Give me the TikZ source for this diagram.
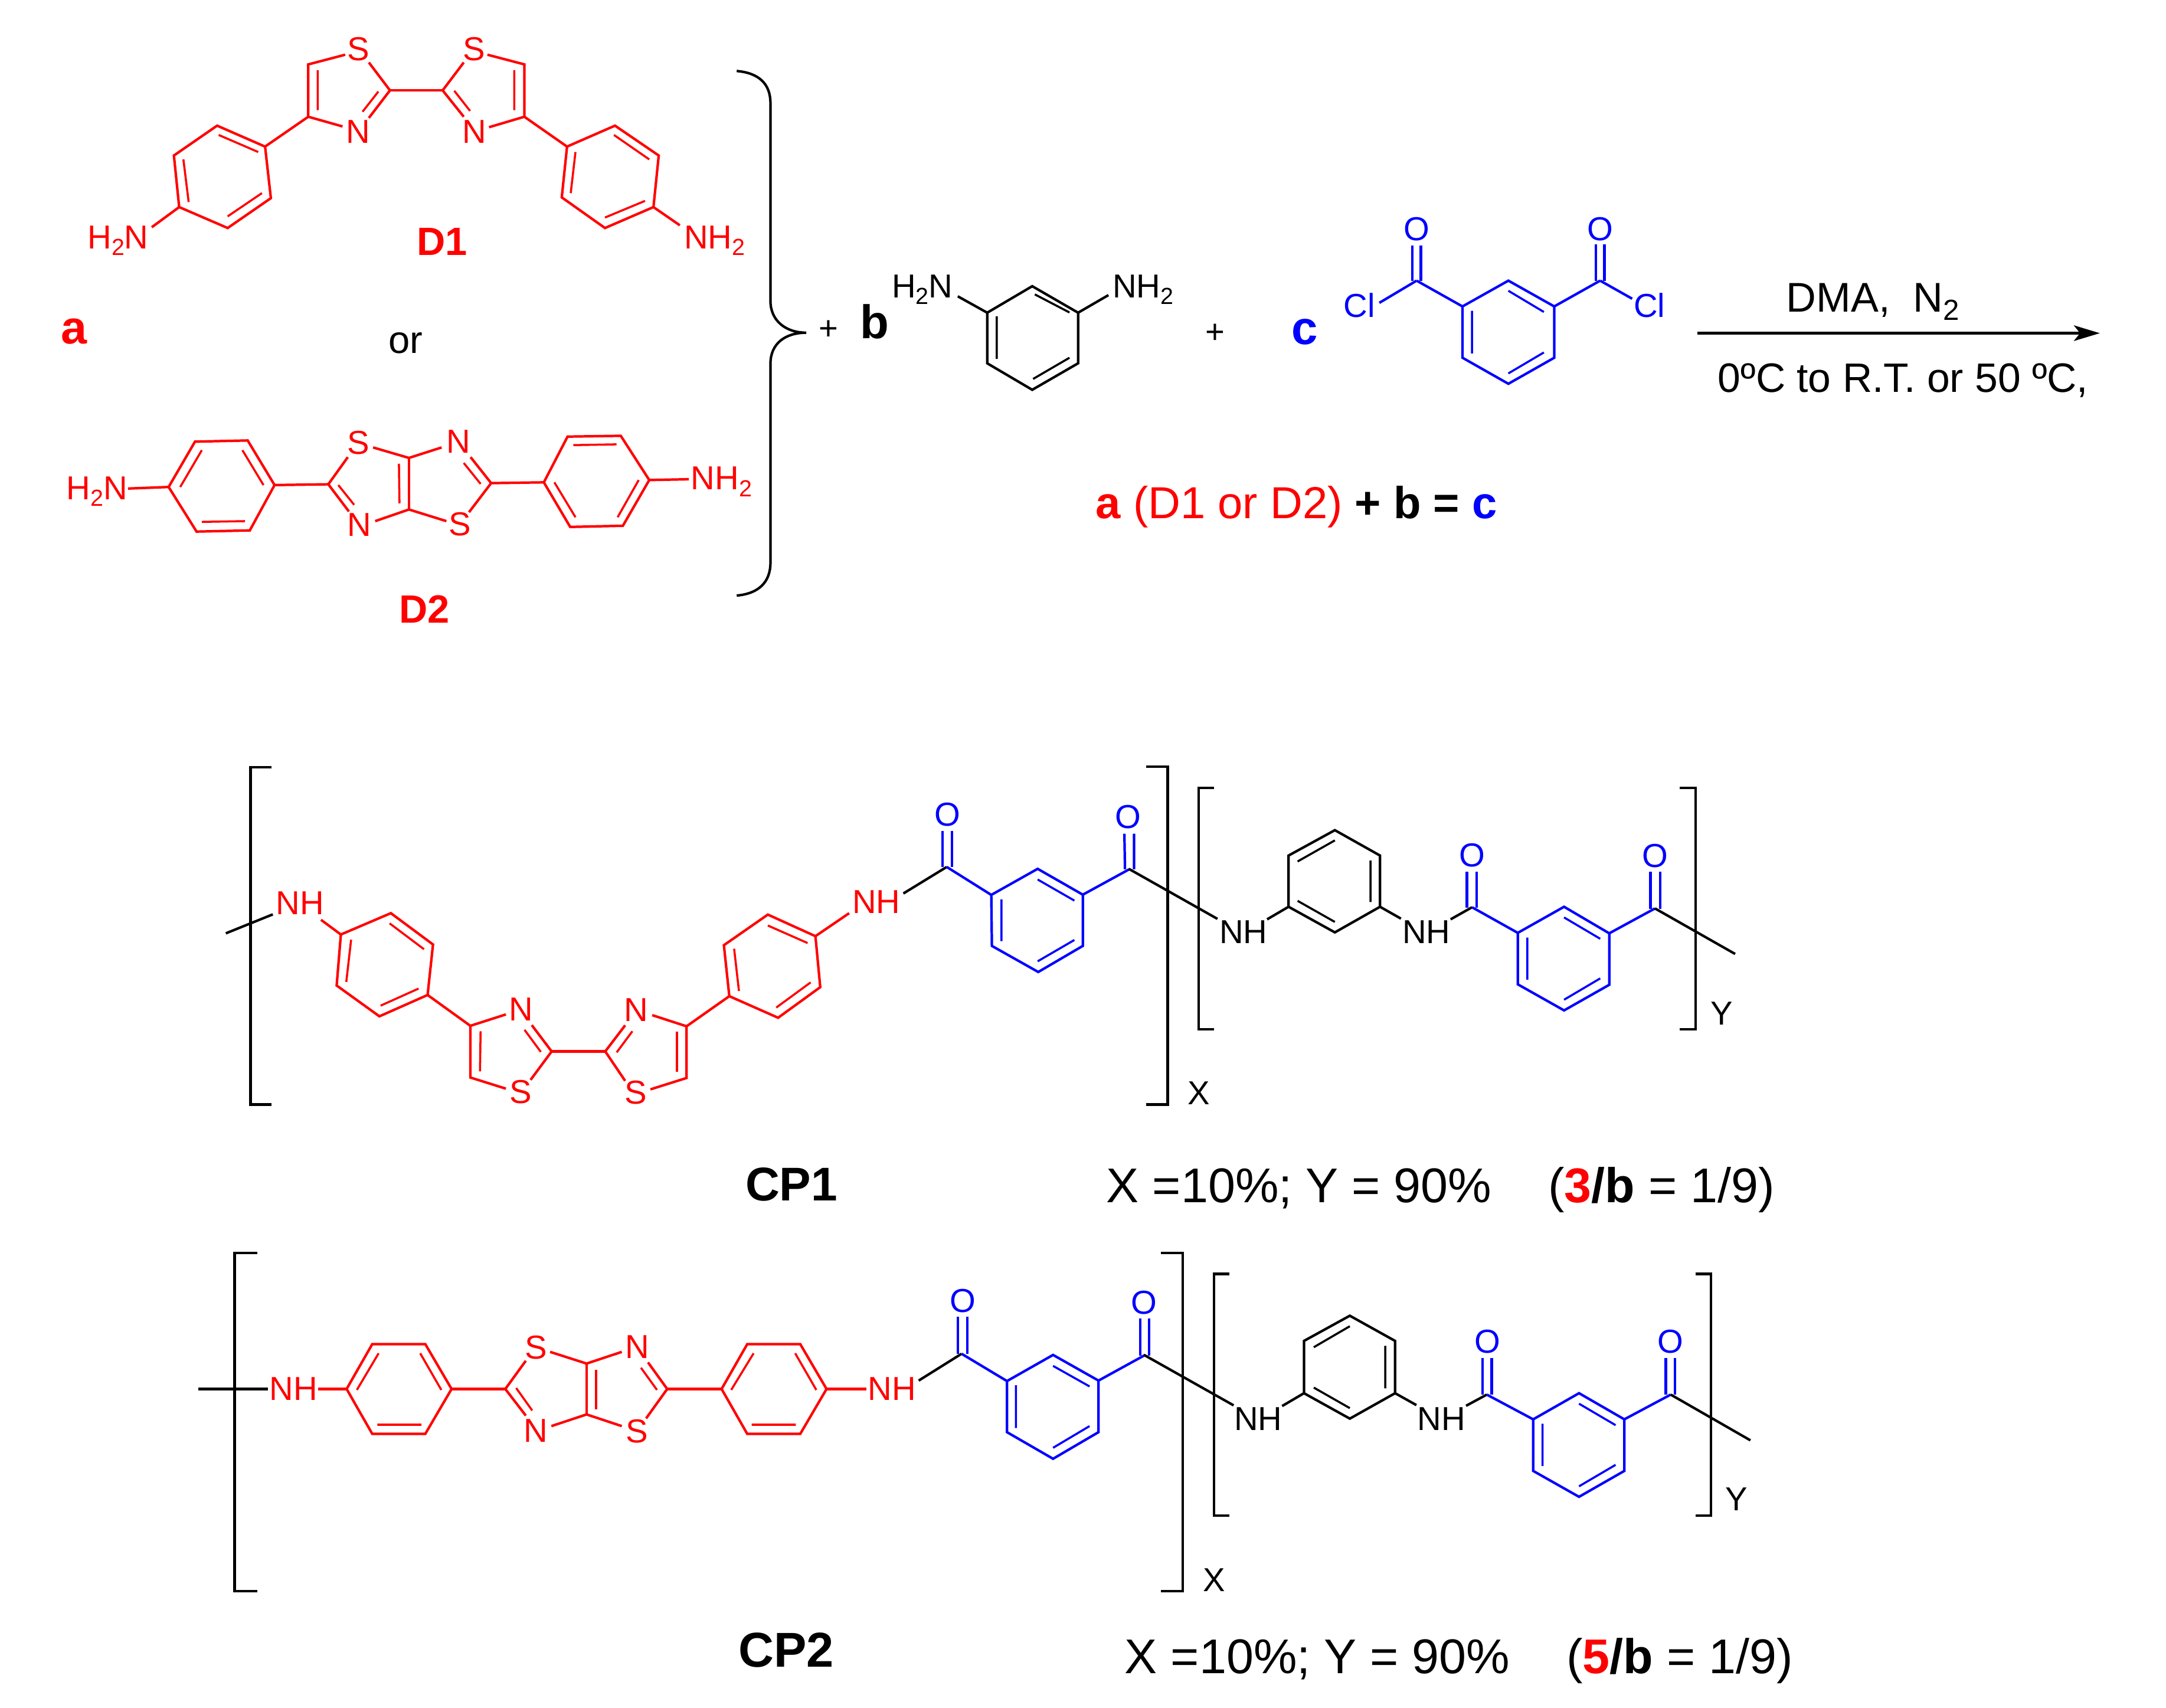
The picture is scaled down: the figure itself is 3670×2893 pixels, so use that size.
\documentclass[tikz,border=0pt]{standalone}
\usepackage{fontspec}
\setmainfont{Liberation Sans}
\usetikzlibrary{arrows.meta}
\definecolor{cr}{RGB}{255,0,0}
\definecolor{cb}{RGB}{0,0,255}
\newcommand{\sbs}[1]{\raisebox{-.2em}{\fontsize{11.2}{11.2}\selectfont #1}}
\newcommand{\sbl}[1]{\raisebox{-.2em}{\fontsize{14}{14}\selectfont #1}}
\newcommand{\fsz}[1]{\fontsize{#1}{#1}\selectfont}
\tikzset{
  rb/.style={draw=cr,line width=1.2pt,line join=miter},
  bb/.style={draw=cb,line width=1.2pt,line join=miter},
  kb/.style={draw=black,line width=1.2pt,line join=miter},
  ri/.style={draw=cr,line width=1pt},
  bi/.style={draw=cb,line width=1pt},
  ki/.style={draw=black,line width=1pt},
  brk/.style={draw=black,line width=1.2pt},
  lab/.style={anchor=base,inner sep=0pt,outer sep=0pt,font=\fsz{16}},
  rl/.style={lab,text=cr},
  bl/.style={lab,text=cb},
  kl/.style={lab,text=black},
  big/.style={anchor=base,inner sep=0pt,outer sep=0pt,font=\fsz{23.5}},
}
\begin{document}
\begin{tikzpicture}[x=0.01cm,y=-0.01cm]
\useasboundingbox[fill=white] (0,0) rectangle (3670,2893);
% ---------- a : D1 and D2
\begin{scope}[shift={(0,50)},xscale=.8929,yscale=.6569]
\node[rl] (s1) at (680,80) {S};
\node[rl] (n1) at (680,293) {N};
\node[rl] (s2) at (900,80) {S};
\node[rl] (n2) at (900,293) {N};
\draw[rb] (655,65)--(585,90)--(585,225)--(650,250);
\draw[rb] (700,85)--(740,157)--(700,228);
\draw[ri] (603,105)--(603,208) (718,160)--(688,212);
\draw[rb] (740,157)--(840,157);
\draw[rb] (880,85)--(840,157)--(880,225);
\draw[ri] (862,158)--(892,210) (976,105)--(976,208);
\draw[rb] (925,65)--(995,90)--(995,225)--(928,252);
\draw[rb] (585,225)--(503,302);
\draw[rb] (503,302)--(412,248)--(330,325)--(340,458)--(432,512)--(514,435)--cycle;
\draw[ri] (490,316)--(415,272) (348,335)--(358,445) (432,482)--(497,422);
\draw[rb] (340,458)--(288,510);
\draw[rb] (995,225)--(1076,302);
\draw[rb] (1076,302)--(1167,248)--(1250,325)--(1240,458)--(1148,512)--(1066,433)--cycle;
\draw[ri] (1092,316)--(1083,422) (1165,272)--(1232,335) (1148,485)--(1224,442);
\draw[rb] (1240,458)--(1290,505);
\node[rl] (h2na) at (224,565) {H\sbs{2}N};
\node[rl] (nh2a) at (1356,565) {NH\sbs{2}};
\node[rl,font=\fsz{19}\bfseries] (d1) at (839,582) {D1};
\node[rl,font=\fsz{22.5}\bfseries] (lba) at (140,810) {a};
\node[kl,font=\fsz{18.5}] (orl) at (770,835) {or};
% D2
\node[rl] (s3) at (680,1095) {S};
\node[rl] (n3) at (870,1092) {N};
\node[rl] (n4) at (682,1307) {N};
\node[rl] (s4) at (873,1305) {S};
\draw[rb] (660,1103)--(623,1173)--(662,1243);
\draw[ri] (642,1175)--(672,1226);
\draw[rb] (708,1078)--(776,1105)--(838,1078);
\draw[rb] (776,1105)--(776,1238);
\draw[ri] (757,1120)--(758,1222);
\draw[rb] (712,1268)--(776,1238)--(847,1268);
\draw[rb] (893,1103)--(932,1170)--(890,1245);
\draw[ri] (880,1118)--(912,1172);
\draw[rb] (623,1173)--(521,1175);
\draw[rb] (521,1175)--(470,1060)--(370,1063)--(320,1180)--(373,1295)--(474,1292)--cycle;
\draw[ri] (500,1175)--(460,1085) (383,1085)--(342,1180) (383,1270)--(465,1268);
\draw[rb] (320,1180)--(243,1184);
\draw[rb] (932,1170)--(1032,1168);
\draw[rb] (1032,1168)--(1077,1050)--(1178,1048)--(1232,1162)--(1182,1280)--(1082,1283)--cycle;
\draw[ri] (1088,1072)--(1170,1070) (1212,1162)--(1172,1258) (1052,1168)--(1092,1258);
\draw[rb] (1232,1162)--(1307,1160);
\node[rl] (h2nb) at (184,1212) {H\sbs{2}N};
\node[rl] (nh2b) at (1369,1187) {NH\sbs{2}};
\node[rl,font=\fsz{19}\bfseries] (d2) at (805,1530) {D2};
% brace
\draw[brk] (1398,107) .. controls (1440,112) and (1462,140) .. (1462,190)
  -- (1462,700) .. controls (1462,750) and (1490,782) .. (1530,782)
  .. controls (1490,782) and (1462,810) .. (1462,862)
  -- (1462,1375) .. controls (1462,1425) and (1440,1455) .. (1398,1460);
\end{scope}
% ---------- b, c, arrow
\begin{scope}[shift={(1350,300)},xscale=1.4668,yscale=.4082]
\node[kl] (pl1) at (37,676) {+};
\node[kl,font=\fsz{22.7}\bfseries] (lbb) at (90,670) {b};
\node[kl] (h2nc) at (145,500) {H\sbs{2}N};
\node[kl] (nh2c) at (400,500) {NH\sbs{2}};
\draw[kb] (272,453)--(325,563)--(325,773)--(272,883)--(220,773)--(220,563)--cycle;
\draw[ki] (275,487)--(315,562) (315,750)--(273,838) (231,578)--(231,755);
\draw[kb] (220,563)--(186,495) (325,563)--(360,490);
\node[kl] (pl2) at (483,690) {+};
\node[bl,font=\fsz{22.7}\bfseries] (lbc) at (587,695) {c};
\node[bl] (cl1) at (650,582) {Cl};
\node[bl] (cl2) at (985,582) {Cl};
\node[bl] (o1) at (716,263) {O};
\node[bl] (o2) at (928,263) {O};
\draw[bb] (716,430)--(769,537)--(822,430)--(875,537)--(875,750)--(822,858)--(769,750)--(769,537);
\draw[bb] (875,537)--(928,430);
\draw[bi] (822,472)--(863,560) (863,728)--(822,815) (780,555)--(780,732);
\draw[bb] (711,283)--(711,430) (721,283)--(721,430) (923,280)--(923,430) (933,280)--(933,430);
\draw[bb] (716,430)--(673,522) (928,430)--(965,505);
\coordinate (arrs) at (1040,648);
\coordinate (arre) at (1505,648);
\draw[draw=black,line width=1.2pt,-{Stealth[length=12.5pt,width=7.5pt,inset=3pt]}] (arrs)--(arre);
\node[kl,font=\fsz{20}] (dma) at (1243,560) {DMA,\ \ N\sbl{2}};
\node[kl,font=\fsz{19.8}] (cond) at (1278,893) {0ºC to R.T. or 50 ºC,};
\node[kl,font=\fsz{21.6}] (eqn) at (577,1416) {\textcolor{cr}{\textbf{a} (D1 or D2)} \textbf{+ b =} \textcolor{cb}{\textbf{c}}};
\end{scope}
% ---------- CP1 left
\begin{scope}[shift={(350,1270)},xscale=1.0204,yscale=.4018]
\draw[brk] (108,75)--(73,75)--(73,1497)--(108,1497);
\draw[kb] (32,775)--(110,695);
\node[rl] (p1n1) at (155,695) {NH};
\draw[rb] (190,718)--(223,780);
\draw[rb] (223,780)--(306,690)--(376,822)--(367,1035)--(287,1125)--(216,995)--cycle;
\draw[ri] (304,733)--(361,842) (352,1008)--(289,1080) (232,980)--(240,802);
\draw[rb] (367,1035)--(438,1165)--(497,1117);
\node[rl] (p1n2) at (522,1143) {N};
\draw[rb] (540,1162)--(573,1273)--(538,1393);
\draw[ri] (528,1182)--(555,1275);
\draw[rb] (573,1273)--(662,1273);
\node[rl] (p1s1) at (522,1493) {S};
\draw[rb] (497,1430)--(438,1383)--(438,1165);
\draw[ri] (455,1188)--(454,1357);
\draw[rb] (695,1163)--(662,1273)--(695,1397);
\draw[ri] (681,1277)--(707,1188);
\node[rl] (p1s2) at (713,1495) {S};
\node[rl] (p1n3) at (713,1145) {N};
\draw[rb] (737,1433)--(797,1385)--(797,1167)--(740,1120);
\draw[ri] (781,1190)--(781,1360);
\draw[rb] (797,1167)--(868,1040);
\draw[rb] (868,1040)--(859,825)--(932,696)--(1011,787)--(1019,1002)--(949,1131)--cycle;
\draw[ri] (884,1018)--(876,840) (932,742)--(998,816) (1003,982)--(946,1088);
\draw[rb] (1011,787)--(1067,690);
\node[rl] (p1n4) at (1112,690) {NH};
\draw[kb] (1157,607)--(1229,495);
\draw[bb] (1222,343)--(1222,495) (1238,343)--(1238,495);
\node[bl] (p1o1) at (1230,323) {O};
\draw[bb] (1229,495)--(1303,613);
\draw[bb] (1303,613)--(1380,503)--(1455,612)--(1455,828)--(1381,938)--(1304,828)--cycle;
\draw[bi] (1380,548)--(1441,637) (1441,803)--(1380,893) (1320,632)--(1320,808);
\draw[bb] (1455,612)--(1532,505);
\draw[bb] (1524,355)--(1525,505) (1540,355)--(1540,505);
\node[bl] (p1o2) at (1530,332) {O};
\end{scope}
% ---------- CP1 right
\begin{scope}[shift={(1550,1270)},xscale=.9566,yscale=.4018]
\draw[kb] (379,503)--(536,714);
\draw[brk] (410,73)--(448,73)--(448,1497)--(410,1497);
\node[kl] (p1x) at (503,1498) {X};
\draw[brk] (530,162)--(503,162)--(503,1180)--(530,1180);
\draw[brk] (1355,162)--(1383,162)--(1383,1180)--(1355,1180);
\node[kl] (p1y) at (1429,1160) {Y};
\node[kl] (p1n5) at (582,818) {NH};
\draw[kb] (624,716)--(662,663);
\draw[kb] (662,663)--(662,447)--(744,340)--(824,447)--(824,663)--(744,771)--cycle;
\draw[ki] (678,472)--(744,383) (807,468)--(807,643) (744,727)--(678,638);
\draw[kb] (824,663)--(861,713);
\node[kl] (p1n6) at (906,818) {NH};
\draw[kb] (949,716)--(987,665);
\draw[bb] (978,515)--(978,668) (995,515)--(995,668);
\node[bl] (p1o3) at (987,493) {O};
\draw[bb] (987,665)--(1068,773);
\draw[bb] (1068,773)--(1150,663)--(1230,775)--(1230,992)--(1150,1100)--(1068,990)--cycle;
\draw[bi] (1150,708)--(1214,798) (1214,965)--(1150,1055) (1085,793)--(1085,970);
\draw[bb] (1230,775)--(1311,670);
\draw[bb] (1303,515)--(1303,672) (1320,515)--(1320,672);
\node[bl] (p1o4) at (1311,497) {O};
\draw[kb] (1311,670)--(1453,862);
\end{scope}
% ---------- CP2 left
\begin{scope}[shift={(300,2100)},xscale=1.0842,yscale=.3954]
\draw[brk] (125,58)--(90,58)--(90,1508)--(125,1508);
\draw[kb] (33,641)--(142,641);
\node[rl] (p2n1) at (182,688) {NH};
\draw[rb] (220,641)--(265,641);
\draw[rb] (265,641)--(305,449)--(388,449)--(429,641)--(388,833)--(305,833)--cycle;
\draw[ri] (281,645)--(315,488) (380,488)--(413,645) (313,794)--(382,794);
\draw[rb] (429,641)--(513,641);
\draw[rb] (545,520)--(513,641)--(545,755);
\draw[ri] (530,637)--(555,733);
\draw[rb] (583,482)--(640,532)--(695,482);
\node[rl] (p2s1) at (561,512) {S};
\node[rl] (p2n2) at (719,510) {N};
\draw[rb] (640,532)--(640,750);
\draw[ri] (655,558)--(655,727);
\draw[rb] (585,800)--(640,750)--(695,800);
\node[rl] (p2n3) at (561,868) {N};
\node[rl] (p2s2) at (719,870) {S};
\draw[rb] (736,527)--(766,641)--(733,767);
\draw[ri] (725,550)--(750,645);
\draw[rb] (766,641)--(851,641);
\draw[rb] (851,641)--(891,449)--(974,449)--(1015,641)--(974,833)--(891,833)--cycle;
\draw[ri] (866,645)--(901,488) (966,488)--(999,645) (898,794)--(967,794);
\draw[rb] (1015,641)--(1077,641);
\node[rl] (p2n4) at (1117,688) {NH};
\draw[kb] (1159,605)--(1226,490);
\draw[bb] (1220,330)--(1220,490) (1235,330)--(1235,490);
\node[bl] (p2o1) at (1228,312) {O};
\draw[bb] (1226,490)--(1297,607);
\draw[bb] (1297,607)--(1369,495)--(1440,605)--(1440,826)--(1369,940)--(1297,826)--cycle;
\draw[bi] (1369,542)--(1426,630) (1426,800)--(1369,893) (1311,625)--(1311,808);
\draw[bb] (1440,605)--(1513,495);
\draw[bb] (1505,340)--(1505,497) (1519,340)--(1519,497);
\node[bl] (p2o2) at (1511,321) {O};
\end{scope}
% ---------- CP2 right
\begin{scope}[shift={(1600,2100)},xscale=.9247,yscale=.3954]
\draw[kb] (366,495)--(530,711);
\draw[brk] (397,58)--(437,58)--(437,1508)--(397,1508);
\node[kl] (p2x) at (494,1508) {X};
\draw[brk] (522,148)--(494,148)--(494,1183)--(522,1183);
\draw[brk] (1377,148)--(1405,148)--(1405,1183)--(1377,1183);
\node[kl] (p2y) at (1452,1163) {Y};
\node[kl] (p2n5) at (575,818) {NH};
\draw[kb] (619,714)--(659,659);
\draw[kb] (659,659)--(659,435)--(743,327)--(826,435)--(826,659)--(743,768)--cycle;
\draw[ki] (677,462)--(743,372) (808,456)--(808,638) (743,723)--(677,635);
\draw[kb] (826,659)--(865,710);
\node[kl] (p2n6) at (911,818) {NH};
\draw[kb] (956,713)--(994,665);
\draw[bb] (986,507)--(986,665) (1003,507)--(1003,665);
\node[bl] (p2o3) at (995,488) {O};
\draw[bb] (994,665)--(1079,771);
\draw[bb] (1079,771)--(1163,659)--(1246,771)--(1246,992)--(1163,1103)--(1079,992)--cycle;
\draw[bi] (1163,704)--(1230,796) (1230,966)--(1163,1058) (1096,790)--(1096,971);
\draw[bb] (1246,771)--(1331,665);
\draw[bb] (1322,507)--(1322,665) (1339,507)--(1339,665);
\node[bl] (p2o4) at (1331,488) {O};
\draw[kb] (1331,665)--(1477,861);
\end{scope}
% ---------- captions
\node[big,font=\fsz{22.8}\bfseries] (cp1) at (1341,2034) {CP1};
\node[big] (r1) at (2201,2037) {X =10\%; Y = 90\%};
\node[big] (q1) at (2815,2037) {(\textcolor{cr}{\textbf{3}}\textbf{/b} = 1/9)};
\node[big,font=\fsz{23.6}\bfseries] (cp2) at (1332,2824) {CP2};
\node[big] (r2) at (2232,2835) {X =10\%; Y = 90\%};
\node[big] (q2) at (2846,2835) {(\textcolor{cr}{\textbf{5}}\textbf{/b} = 1/9)};
\end{tikzpicture}
\end{document}
